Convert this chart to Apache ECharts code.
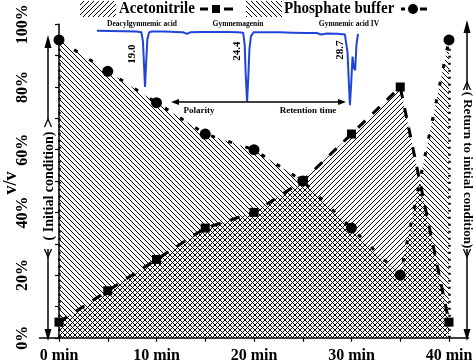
<!DOCTYPE html>
<html><head><meta charset="utf-8">
<script src="https://cdn.jsdelivr.net/npm/echarts@6/dist/echarts.min.js"></script>
<style>html,body{margin:0;padding:0;background:#fff}#c{width:474px;height:362px}</style>
</head><body><div id="c"></div>
<script>
// ---- data ----
const timeMin = [0, 5, 10, 15, 20, 25, 30, 35, 40];
const acetonitrile = [5, 15, 25, 35, 40, 50, 65, 80, 5];
const phosphateBuffer = [95, 85, 75, 65, 60, 50, 35, 20, 95];
const xTickValues = [0, 5, 10, 15, 20, 25, 30, 35, 40];
const xLabelValues = [0, 10, 20, 30, 40];
const yLabelValues = [0, 20, 40, 60, 80, 100];
const seriesNames = ['Acetonitrile', 'Phosphate buffer'];
const yAxisTitle = 'v/v';
// inset chromatogram (position along trace 0-100, signal drop 0-100)
const tracePos = [0,5,10,15,17,17.6,18,18.4,18.8,19.3,20,21,26,30,33,34.4,35.8,40,45,50,54,56,56.6,57,57.5,58,58.4,59,60,65,70,75,80,84,86,88,92,95,96,96.5,96.9,97.4,97.9,98.4,98.9,99.4,100];
const traceSig = [1,1.2,1.5,2,3,15,45,75,45,12,3,2,2,2.5,3,5,3,2.5,2.5,2.5,3,3.5,20,60,94,60,25,8,3,3,3,3.5,4,4,6,4.5,5,6,30,70,99,70,35,50,53,20,5];
const peakNames = ['Deacylgymnemic acid', 'Gymnemagenin', 'Gymnemic acid IV'];
const peakTimes = ['19.0', '24.4', '28.7'];

const FONT = 'Liberation Serif';
function hatch(dir) {
  const s = 5, c = document.createElement('canvas');
  c.width = s; c.height = s;
  const g = c.getContext('2d');
  g.strokeStyle = '#000'; g.lineWidth = 1; g.beginPath();
  if (dir > 0) {
    g.moveTo(0, s); g.lineTo(s, 0); g.moveTo(-1, 1); g.lineTo(1, -1); g.moveTo(s - 1, s + 1); g.lineTo(s + 1, s - 1);
  } else {
    g.moveTo(0, 0); g.lineTo(s, s); g.moveTo(s - 1, -1); g.lineTo(s + 1, 1); g.moveTo(-1, s - 1); g.lineTo(1, s + 1);
  }
  g.stroke();
  return c;
}
const patFwd = { image: hatch(1), repeat: 'repeat' };
const patBack = { image: hatch(-1), repeat: 'repeat' };

const pairs = (xs, ys) => xs.map((x, i) => [x, ys[i]]);

const chart = echarts.init(document.getElementById('c'), null, { renderer: 'canvas' });
const lbl = { color: '#000', fontFamily: FONT, fontWeight: 'bold', fontSize: 16 };

function txt(x, y, text, size, rot, extra) {
  return Object.assign({ type: 'text', x: x, y: y, rotation: rot || 0, z: 50,
    style: { text: text, fill: '#000', font: 'bold ' + size + 'px "' + FONT + '"', textAlign: 'center', textVerticalAlign: 'middle' } }, extra || {});
}
function ln(x1, y1, x2, y2, w, color, dash) {
  return { type: 'line', z: 50, shape: { x1, y1, x2, y2 }, style: { stroke: color || '#000', lineWidth: w || 1.5, lineDash: dash || null } };
}
function tri(pts, color) {
  return { type: 'polygon', z: 50, shape: { points: pts }, style: { fill: color || '#000' } };
}
function pl(pts, w) {
  return { type: 'polyline', z: 50, shape: { points: pts }, style: { stroke: '#000', lineWidth: w || 1.3, fill: null } };
}

const graphics = [
  // y axis title
  txt(11, 183, yAxisTitle, 18, Math.PI / 2),
  // legend
  { type: 'rect', z: 50, shape: { x: 80, y: 1, width: 36, height: 16 }, style: { fill: patFwd } },
  { type: 'text', z: 50, x: 119, y: 9, scaleY: 1.15, style: { text: seriesNames[0], fill: '#000', font: 'bold 15px "' + FONT + '"', textVerticalAlign: 'middle' } },
  ln(200, 9, 208, 9, 3), { type: 'rect', z: 50, shape: { x: 212, y: 5, width: 8, height: 8 }, style: { fill: '#000' } }, ln(224, 9, 233, 9, 3),
  { type: 'rect', z: 50, shape: { x: 246, y: 1, width: 36, height: 16 }, style: { fill: patBack } },
  { type: 'text', z: 50, x: 284, y: 9, scaleY: 1.15, style: { text: seriesNames[1], fill: '#000', font: 'bold 15px "' + FONT + '"', textVerticalAlign: 'middle' } },
  ln(401, 9, 405, 9, 3), { type: 'circle', z: 50, shape: { cx: 413, cy: 9, r: 5 }, style: { fill: '#000' } }, ln(420, 9, 427, 9, 3),
  // left annotation
  tri([[48, 35], [44.5, 48], [51.5, 48]]), ln(48, 46, 48, 119, 1.5),
  pl([[44.5, 127], [48, 119], [51.5, 127]]),
  txt(49, 186, '( Initial condition)', 14, Math.PI / 2),
  pl([[44.5, 249], [48, 257], [51.5, 249]]), ln(48, 249, 48, 332, 1.5),
  tri([[48, 341], [44.5, 329], [51.5, 329]]),
  // right annotation
  tri([[467, 20], [463.5, 33], [470.5, 33]]), ln(467, 31, 467, 90, 1.5),
  pl([[463.5, 90], [467, 82], [470.5, 90]]),
  txt(467, 170, '( Return to initial condition)', 13, -Math.PI / 2),
  pl([[463.5, 249], [467, 257], [470.5, 249]]), ln(467, 249, 467, 332, 1.5),
  tri([[467, 341], [463.5, 329], [470.5, 329]]),
  // inset annotations
  txt(142, 24, peakNames[0], 7.5), txt(238, 24, peakNames[1], 7.5), txt(349, 24, peakNames[2], 7.5),
  txt(132, 54, peakTimes[0], 11, Math.PI / 2), txt(237, 51, peakTimes[1], 11, Math.PI / 2), txt(340, 50, peakTimes[2], 11, Math.PI / 2),
  ln(176, 102, 341, 102, 1.5),
  tri([[171, 102], [179, 99], [179, 105]]), tri([[346, 102], [338, 99], [338, 105]]),
  txt(199, 111, 'Polarity', 9), txt(308, 111, 'Retention time', 9)
];

chart.setOption({
  animation: false,
  backgroundColor: '#fff',
  grid: [
    { left: 39.5, right: 5.5, top: 24.3, bottom: 24.2, containLabel: false, outerBoundsMode: 'none' },
    { left: 97, right: 116, top: 30, height: 76, containLabel: false, outerBoundsMode: 'none' }
  ],
  xAxis: [
    { type: 'value', min: -2, max: 42, gridIndex: 0,
      axisLine: { show: true, lineStyle: { color: '#000', width: 1.5 } },
      axisTick: { show: true, customValues: xTickValues, length: 4, lineStyle: { color: '#000', width: 1.2 } },
      axisLabel: Object.assign({ customValues: xLabelValues, margin: 10, formatter: v => v + ' min' }, lbl),
      splitLine: { show: false } },
    { type: 'value', min: 0, max: 100, gridIndex: 1, show: false }
  ],
  yAxis: [
    { type: 'value', min: 0, max: 100, interval: 10, gridIndex: 0,
      axisLine: { show: true, lineStyle: { color: '#000', width: 1.5 } },
      axisTick: { show: true, length: 4, lineStyle: { color: '#000', width: 1.2 } },
      axisLabel: Object.assign({ customValues: yLabelValues, rotate: 90, margin: 9, formatter: v => v + '%' }, lbl),
      splitLine: { show: false } },
    { type: 'value', min: 0, max: 100, inverse: true, gridIndex: 1, show: false }
  ],
  series: [
    { name: seriesNames[1], type: 'line', xAxisIndex: 0, yAxisIndex: 0, data: pairs(timeMin, phosphateBuffer),
      symbol: 'circle', symbolSize: 11, itemStyle: { color: '#000' },
      lineStyle: { color: '#000', width: 3, type: [4, 14] },
      areaStyle: { color: patBack, opacity: 1 }, z: 3,
      markLine: { silent: true, symbol: 'none', label: { show: false },
        lineStyle: { color: '#000', width: 2.5, type: [2, 5] },
        data: [
          [{ coord: [timeMin[0], 0] }, { coord: [timeMin[0], phosphateBuffer[0]] }],
          [{ coord: [timeMin[8], 0] }, { coord: [timeMin[8], phosphateBuffer[8]] }]
        ] } },
    { name: seriesNames[0], type: 'line', xAxisIndex: 0, yAxisIndex: 0, data: pairs(timeMin, acetonitrile),
      symbol: 'rect', symbolSize: 9, itemStyle: { color: '#000' },
      lineStyle: { color: '#000', width: 3, type: [10, 10] },
      areaStyle: { color: patFwd, opacity: 1 }, z: 4 },
    { name: 'trace', type: 'line', xAxisIndex: 1, yAxisIndex: 1, data: pairs(tracePos, traceSig),
      symbol: 'none', lineStyle: { color: '#1f45d6', width: 2 }, z: 6 }
  ],
  graphic: graphics
});
</script></body></html>
